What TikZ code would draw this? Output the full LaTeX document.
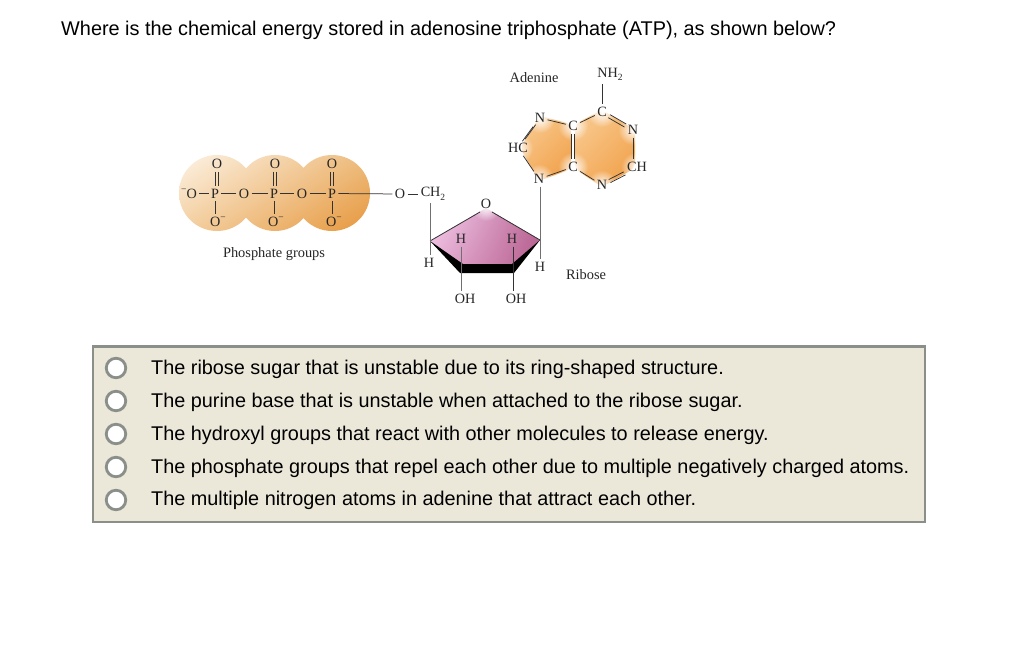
\documentclass[tikz,border=0pt]{standalone}
\usepackage{fontspec}
\setmainfont{Liberation Sans}
\newfontfamily\atomfont{Liberation Serif}
\usetikzlibrary{fadings,shadings}
\tikzfading[name=haloFade,inner color=transparent!0,outer color=transparent!100]
\pgfdeclareradialshading{radioball}{\pgfpoint{0bp}{0bp}}{color(0bp)=(white); color(28bp)=(white); color(46bp)=(black!38); color(50bp)=(black!38)}
\newcommand{\subtwo}{\raisebox{-0.25em}{\fontsize{9.5}{10}\selectfont 2}}
\newcommand{\supminus}{\raisebox{0.38em}{\fontsize{9.5}{10}\selectfont −}}
\definecolor{boxfill}{HTML}{EBE7D9}
\definecolor{boxedge}{HTML}{8A8F8A}
\definecolor{bondgray}{HTML}{707070}
\definecolor{phUL}{HTML}{FDF3E6}
\definecolor{phUR}{HTML}{EDBB7C}
\definecolor{phLL}{HTML}{F3CFA0}
\definecolor{phLR}{HTML}{E6963A}
\definecolor{adUL}{HTML}{F9CE98}
\definecolor{adUR}{HTML}{F6B870}
\definecolor{adLL}{HTML}{F5B267}
\definecolor{adLR}{HTML}{EF9C42}
\definecolor{riUL}{HTML}{F7D2F2}
\definecolor{riUR}{HTML}{BC6A98}
\definecolor{riLL}{HTML}{E6AED2}
\definecolor{riLR}{HTML}{B55C8C}
\tikzset{
  x=1pt,y=-1pt,
  question/.style={anchor=base west,inner sep=0pt,font=\fontsize{19.87}{22}\selectfont,text=black},
  optiontext/.style={anchor=base west,inner sep=0pt,font=\fontsize{19.85}{22}\selectfont,text=black},
  atom/.style={inner xsep=2.5pt,inner ysep=3pt,outer sep=0pt,font=\atomfont\fontsize{14.2}{16}\selectfont,text=black!85},
  caption/.style={inner sep=0pt,font=\atomfont\fontsize{14.4}{16}\selectfont,text=black!85},
  bond/.style={draw=black!80,line width=0.75pt},
  graybond/.style={draw=bondgray,line width=1pt},
  halo/.style={white,path fading=haloFade},
  radio/.style={circle,draw=boxedge,line width=2.8pt,minimum size=19.5pt,inner sep=0pt,shading=radioball},
  shiftL/.style={transform canvas={xshift=-1.6pt}},
  shiftR/.style={transform canvas={xshift=1.6pt}},
}
\begin{document}
\begin{tikzpicture}
\useasboundingbox (0,0) rectangle (1024,647);
\fill[white] (0,0) rectangle (1024,647);

\node[question] (q) at (61,36) {Where is the chemical energy stored in adenosine triphosphate (ATP), as shown below?};

% phosphate background
\begin{scope}
  \clip (217,193) circle (38) (275,193) circle (38) (332,193) circle (38);
  \shade[upper left=phUL,upper right=phUR,lower left=phLL,lower right=phLR]
    (178,155) rectangle (371,232);
\end{scope}

% adenine background
\shade[rounded corners=6pt,upper left=adUL,upper right=adUR,lower left=adLL,lower right=adLR]
  (540,116) -- (571,124) -- (571,169) -- (539,181) -- (520,148) -- cycle;
\shade[rounded corners=6pt,upper left=adUL,upper right=adUR,lower left=adLL,lower right=adLR]
  (602,110) -- (635,130) -- (635,168) -- (602,187) -- (575,169) -- (575,124) -- cycle;
\foreach \hx/\hy in {540/118,573/126,602/112,633/130,636/167,602/185,573/167,539/179,518/148}
  \fill[halo] (\hx,\hy) circle (15);

% ribose
\shade[upper left=riUL,upper right=riUR,lower left=riLL,lower right=riLR]
  (486,208) -- (540,240) -- (513,270) -- (461,270) -- (430,241) -- cycle;
\fill[halo] (486,206) circle (15);
\draw[black!80,line width=0.8pt] (430,241) -- (480,212) (492,212) -- (540,240);
\fill[black] (430,241) -- (460,273) -- (514,273) -- (540,240) -- (512,264) -- (463,264) -- cycle;

% phosphate atoms
\node[atom] (o1) at (217,164) {O};
\node[atom] (o2) at (275,164) {O};
\node[atom] (o3) at (332,164) {O};
\node[atom] (om) at (189,193.5) {\supminus O};
\node[atom] (p1) at (215,193.5) {P};
\node[atom] (ob1) at (244,193.5) {O};
\node[atom] (p2) at (274,193.5) {P};
\node[atom] (ob2) at (302,193.5) {O};
\node[atom] (p3) at (332,193.5) {P};
\node[atom] (om1) at (218,221.5) {O\supminus};
\node[atom] (om2) at (276,221.5) {O\supminus};
\node[atom] (om3) at (334,221.5) {O\supminus};
\node[atom] (o4) at (400,194) {O};
\node[atom] (ch2) at (433,194) {CH\subtwo};
\draw[bond,shiftL] (o1) -- (p1.north -| o1);
\draw[bond,shiftR] (o1) -- (p1.north -| o1);
\draw[bond,shiftL] (o2) -- (p2.north -| o2);
\draw[bond,shiftR] (o2) -- (p2.north -| o2);
\draw[bond,shiftL] (o3) -- (p3);
\draw[bond,shiftR] (o3) -- (p3);
\draw[bond] (om) -- (p1);
\draw[bond] (p1) -- (ob1);
\draw[bond] (ob1) -- (p2);
\draw[bond] (p2) -- (ob2);
\draw[bond] (ob2) -- (p3);
\draw[bond] (p3) -- (o4);
\draw[bond] (o4) -- (ch2);
\draw[bond] (p1) -- (om1.north -| p1);
\draw[bond] (p2) -- (om2.north -| p2);
\draw[bond] (p3) -- (om3.north -| p3);
\node[caption] (phos) at (274,254.5) {Phosphate groups};

% adenine atoms
\node[caption] (aden) at (534,78) {Adenine};
\node[atom] (nh2) at (610,74.5) {NH\subtwo};
\node[atom] (ct) at (602,112) {C};
\node[atom] (nl) at (540,118) {N};
\node[atom] (c1) at (573,126) {C};
\node[atom] (nr) at (633,130) {N};
\node[atom] (hc) at (518,148) {HC};
\node[atom] (ch) at (637,167) {CH};
\node[atom] (c2) at (573,167) {C};
\node[atom] (nb) at (539,179) {N};
\node[atom] (nbr) at (602,185) {N};
\draw[bond] (ct |- nh2.south) -- (ct);
\draw[bond] (nl) -- (c1);
\draw[bond] (c1) -- (ct);
\draw[bond,transform canvas={xshift=-0.9pt,yshift=-1.5pt}] (ct) -- (nr);
\draw[bond,transform canvas={xshift=0.9pt,yshift=1.5pt}] (ct) -- (nr);
\draw[bond] (nr) -- (ch.north -| nr);
\draw[bond,transform canvas={xshift=-0.9pt,yshift=1.5pt}] (ch) -- (nbr);
\draw[bond,transform canvas={xshift=0.9pt,yshift=-1.5pt}] (ch) -- (nbr);
\draw[bond] (nbr) -- (c2);
\draw[bond,shiftL] (c1) -- (c2);
\draw[bond,shiftR] (c1) -- (c2);
\draw[bond] (c2) -- (nb);
\draw[bond] (nb) -- (hc);
\draw[bond,transform canvas={xshift=-1.3pt,yshift=-1pt}] (hc) -- (nl);
\draw[bond,transform canvas={xshift=1.3pt,yshift=1pt}] (hc) -- (nl);

% ribose atoms
\node[atom] (ro) at (486,204) {O};
\node[atom] (h1) at (461,239) {H};
\node[atom] (h2) at (512,239) {H};
\node[atom] (h3) at (429,263) {H};
\node[atom] (h4) at (540,267) {H};
\node[atom] (oh1) at (465,299) {OH};
\node[atom] (oh2) at (516,299) {OH};
\node[caption] (rib) at (586,275) {Ribose};
\coordinate (rl) at (430,241);
\coordinate (rr) at (540,240);
\coordinate (rbl) at (461,268);
\coordinate (rbr) at (513,268);
\draw[graybond] (rl |- ch2.south) -- (rl);
\draw[graybond] (rl) -- (rl |- h3.north);
\draw[graybond] (nb.south -| rr) -- (rr);
\draw[graybond] (rr) -- (h4.north -| rr);
\draw[graybond] (rbl |- h1.south) -- (rbl);
\draw[graybond] (rbl) -- (rbl |- oh1.north);
\draw[bond] (rbr |- h2.south) -- (rbr);
\draw[bond] (rbr) -- (rbr |- oh2.north);

% answers
\draw[boxedge,line width=2.6pt,fill=boxfill] (93,346.5) rectangle (925,522);
\node[radio] (r1) at (116,368) {};
\node[radio] (r2) at (116,401) {};
\node[radio] (r3) at (116,434) {};
\node[radio] (r4) at (116,467) {};
\node[radio] (r5) at (116,500) {};
\node[optiontext] (t1) at (151,374) {The ribose sugar that is unstable due to its ring-shaped structure.};
\node[optiontext] (t2) at (151,407) {The purine base that is unstable when attached to the ribose sugar.};
\node[optiontext] (t3) at (151,440) {The hydroxyl groups that react with other molecules to release energy.};
\node[optiontext] (t4) at (151,473) {The phosphate groups that repel each other due to multiple negatively charged atoms.};
\node[optiontext] (t5) at (151,505.5) {The multiple nitrogen atoms in adenine that attract each other.};
\end{tikzpicture}
\end{document}
